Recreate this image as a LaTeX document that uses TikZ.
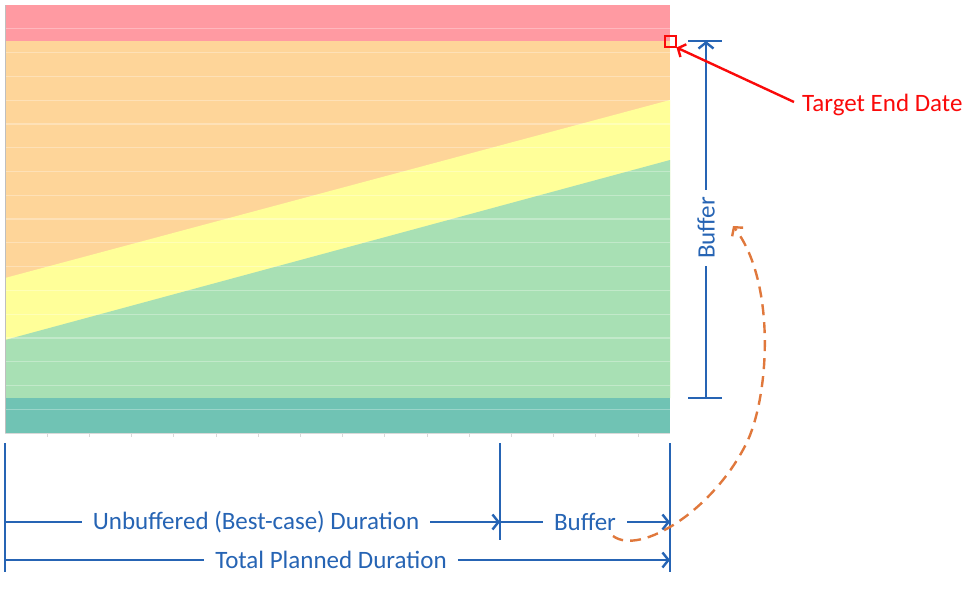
\documentclass[tikz,border=0pt]{standalone}
\usepackage{fontspec}
\setmainfont{Carlito}
\usetikzlibrary{arrows.meta}
\definecolor{cred}{RGB}{255,154,162}
\definecolor{corange}{RGB}{254,213,153}
\definecolor{cyellow}{RGB}{255,255,153}
\definecolor{cgreen}{RGB}{168,224,180}
\definecolor{cteal}{RGB}{112,195,180}
\definecolor{dimblue}{RGB}{38,100,180}
\definecolor{tred}{RGB}{250,10,10}
\definecolor{dorange}{RGB}{224,120,60}
\begin{document}
\begin{tikzpicture}[x=1pt,y=-1pt,
  dim/.style={draw=dimblue,line width=2.4pt},
  dimarrow/.style={dim,-{Straight Barb[length=6pt,width=15pt,line width=2.4pt]}},
  lbl/.style={font=\fontsize{25}{28}\selectfont,text=dimblue,fill=white,inner xsep=11pt,inner ysep=2pt},
  grid/.style={draw=white,opacity=0.3,line width=1.2pt}]
\useasboundingbox (0,0) rectangle (977,589);
% bands
\fill[cred] (5,5) rectangle (670,41);
\fill[corange] (5,41) rectangle (670,398);
\fill[cyellow] (5,278) -- (670,100) -- (670,398) -- (5,398) -- cycle;
\fill[cgreen] (5,340) -- (670,160) -- (670,398) -- (5,398) -- cycle;
\fill[cteal] (5,398) rectangle (670,433);
% grid lines
\foreach \k in {1,...,17} {
  \draw[grid] (5,{5+23.78*\k}) -- (670,{5+23.78*\k});
}
% axes
\draw[gray!50,line width=1pt] (5,5) -- (5,433);
\draw[gray!30,line width=0.8pt] (5,433) -- (670,433);
\foreach \k in {1,...,15} {
  \draw[gray!30,line width=0.8pt] ({5+42.2*\k},433) -- ({5+42.2*\k},437);
}
% vertical buffer
\coordinate (bt) at (706,41);
\coordinate (bb) at (706,398);
\node[lbl,rotate=90,inner xsep=7pt] (bufv) at (706,228) {Buffer};
\draw[dimarrow] (bufv.east) -- (bt);
\draw[dim] (bufv.west) -- (bb);
\draw[dim] (688,41) -- (722,41);
\draw[dim] (688,398) -- (722,398);
% bottom vertical markers
\draw[dim] (5,443) -- (5,572);
\draw[dim] (500,443) -- (500,540);
\draw[dim] (670,443) -- (670,572);
\coordinate (l0) at (5,522);
\coordinate (m0) at (500,522);
\coordinate (r0) at (670,522);
\coordinate (l1) at (5,560);
\coordinate (r1) at (670,560);
\node[lbl] (ub) at (256,522) {Unbuffered (Best-case) Duration};
\node[lbl] (bf) at (585,522) {Buffer};
\node[lbl] (tot) at (331,560) {Total Planned Duration};
\draw[dim] (l0) -- (ub.west);
\draw[dimarrow] (ub.east) -- (m0);
\draw[dim] (m0) -- (bf.west);
\draw[dimarrow] (bf.east) -- (r0);
\draw[dim] (l1) -- (tot.west);
\draw[dimarrow] (tot.east) -- (r1);
% target end date
\node[draw=tred,line width=2pt,minimum size=11pt,inner sep=0pt] (sq) at (670,41) {};
\node[font=\fontsize{25}{28}\selectfont,text=tred,anchor=west,inner sep=0pt] (ted) at (802,105) {Target End Date};
\draw[tred,line width=2.4pt,-{Straight Barb[length=6pt,width=14pt,line width=2.4pt]}] (ted.west) ++(-8,-3) coordinate (ts) (ts) -- (sq.south east);
% dashed curve
\coordinate (cs) at (613,536);
\coordinate (cm) at (748,440);
\coordinate (ce) at (733,226);
\draw[dorange,line width=2.4pt,dash pattern=on 11pt off 7pt,-{Straight Barb[length=6pt,width=14pt,line width=2.4pt]}]
  (cs) .. controls (640,556) and (715,510) .. (cm)
       .. controls (770,390) and (775,280) .. (ce);
\end{tikzpicture}
\end{document}
